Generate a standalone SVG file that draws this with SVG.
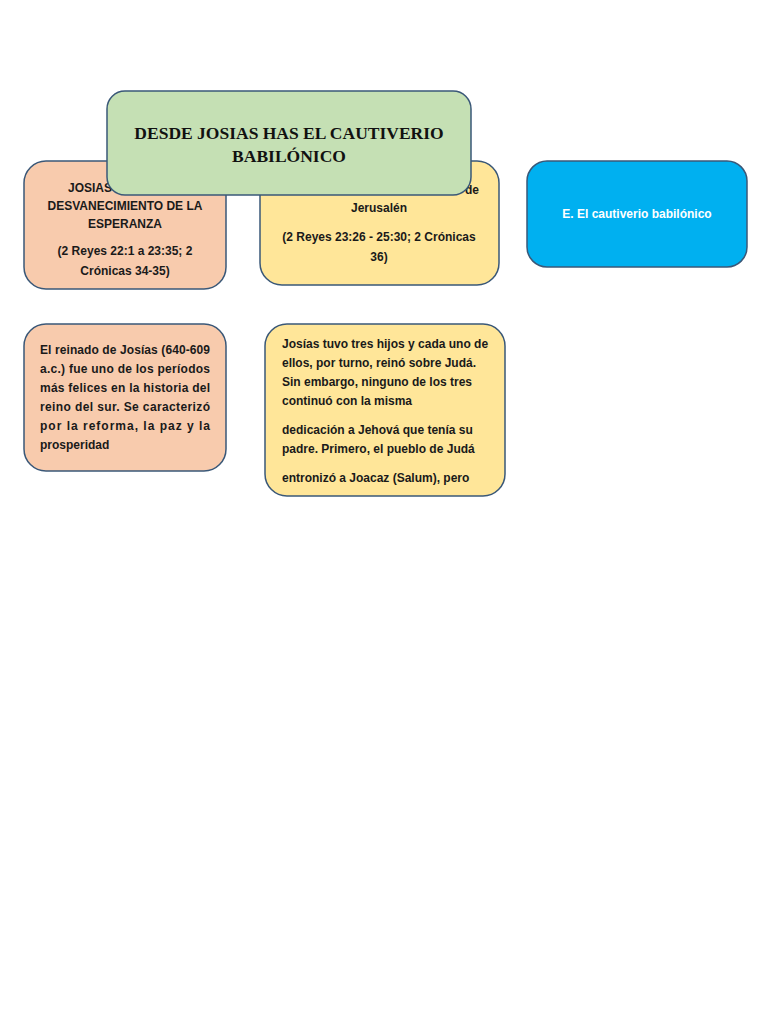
<svg xmlns="http://www.w3.org/2000/svg" width="768" height="1024" viewBox="0 0 768 1024">
<style>
.box{stroke:#3a5878;stroke-width:1.5}
.peach{fill:#f8cbad}
.yellow{fill:#ffe699}
.blue{fill:#00b0f0}
.green{fill:#c5e0b4}
.t{font-family:"Liberation Sans",Arial,sans-serif;font-weight:bold;font-size:12px;fill:#1a1a1a}
.c{text-anchor:middle}
.w{fill:#ffffff}
.title{font-family:"Liberation Serif","Times New Roman",serif;font-weight:bold;font-size:17.5px;fill:#111;text-anchor:middle}
</style>
<rect width="768" height="1024" fill="#ffffff"/>
<g id="connectors"/>
<g id="node-josias">
<rect class="box peach" x="24" y="161" width="202" height="128" rx="22"/>
<text class="t" x="68" y="192">JOSIAS</text>
<text class="t c" x="125" y="210">DESVANECIMIENTO DE LA</text>
<text class="t c" x="125" y="228">ESPERANZA</text>
<text class="t c" x="125" y="255">(2 Reyes 22:1 a 23:35; 2</text>
<text class="t c" x="125" y="275">Crónicas 34-35)</text>
</g>
<g id="node-jerusalen">
<rect class="box yellow" x="260" y="161" width="239" height="124" rx="22"/>
<text class="t" x="465" y="194">de</text>
<text class="t c" x="379" y="212">Jerusalén</text>
<text class="t c" x="379" y="241">(2 Reyes 23:26 - 25:30; 2 Crónicas</text>
<text class="t c" x="379" y="261">36)</text>
</g>
<g id="node-cautiverio">
<rect class="box blue" x="527" y="161" width="220" height="106" rx="20"/>
<text class="t c w" x="637" y="218">E. El cautiverio babilónico</text>
</g>
<g id="node-reinado">
<rect class="box peach" x="24" y="324" width="202" height="147" rx="22"/>
<text class="t" x="40" y="354" textLength="170" lengthAdjust="spacing">El reinado de Josías (640-609</text>
<text class="t" x="40" y="373" textLength="170" lengthAdjust="spacing">a.c.) fue uno de los períodos</text>
<text class="t" x="40" y="392" textLength="170" lengthAdjust="spacing">más felices en la historia del</text>
<text class="t" x="40" y="411" textLength="170" lengthAdjust="spacing">reino del sur. Se caracterizó</text>
<text class="t" x="40" y="430" textLength="170" lengthAdjust="spacing">por la reforma, la paz y la</text>
<text class="t" x="40" y="449">prosperidad</text>
</g>
<g id="node-hijos">
<rect class="box yellow" x="265" y="324" width="240" height="172" rx="22"/>
<text class="t" x="282" y="348">Josías tuvo tres hijos y cada uno de</text>
<text class="t" x="282" y="367">ellos, por turno, reinó sobre Judá.</text>
<text class="t" x="282" y="386">Sin embargo, ninguno de los tres</text>
<text class="t" x="282" y="405">continuó con la misma</text>
<text class="t" x="282" y="434">dedicación a Jehová que tenía su</text>
<text class="t" x="282" y="453">padre. Primero, el pueblo de Judá</text>
<text class="t" x="282" y="482">entronizó a Joacaz (Salum), pero</text>
</g>
<g id="node-title">
<rect class="box green" x="107" y="91" width="364" height="104" rx="18"/>
<text class="title" x="289" y="139">DESDE JOSIAS HAS EL CAUTIVERIO</text>
<text class="title" x="289" y="162">BABILÓNICO</text>
</g>
</svg>
